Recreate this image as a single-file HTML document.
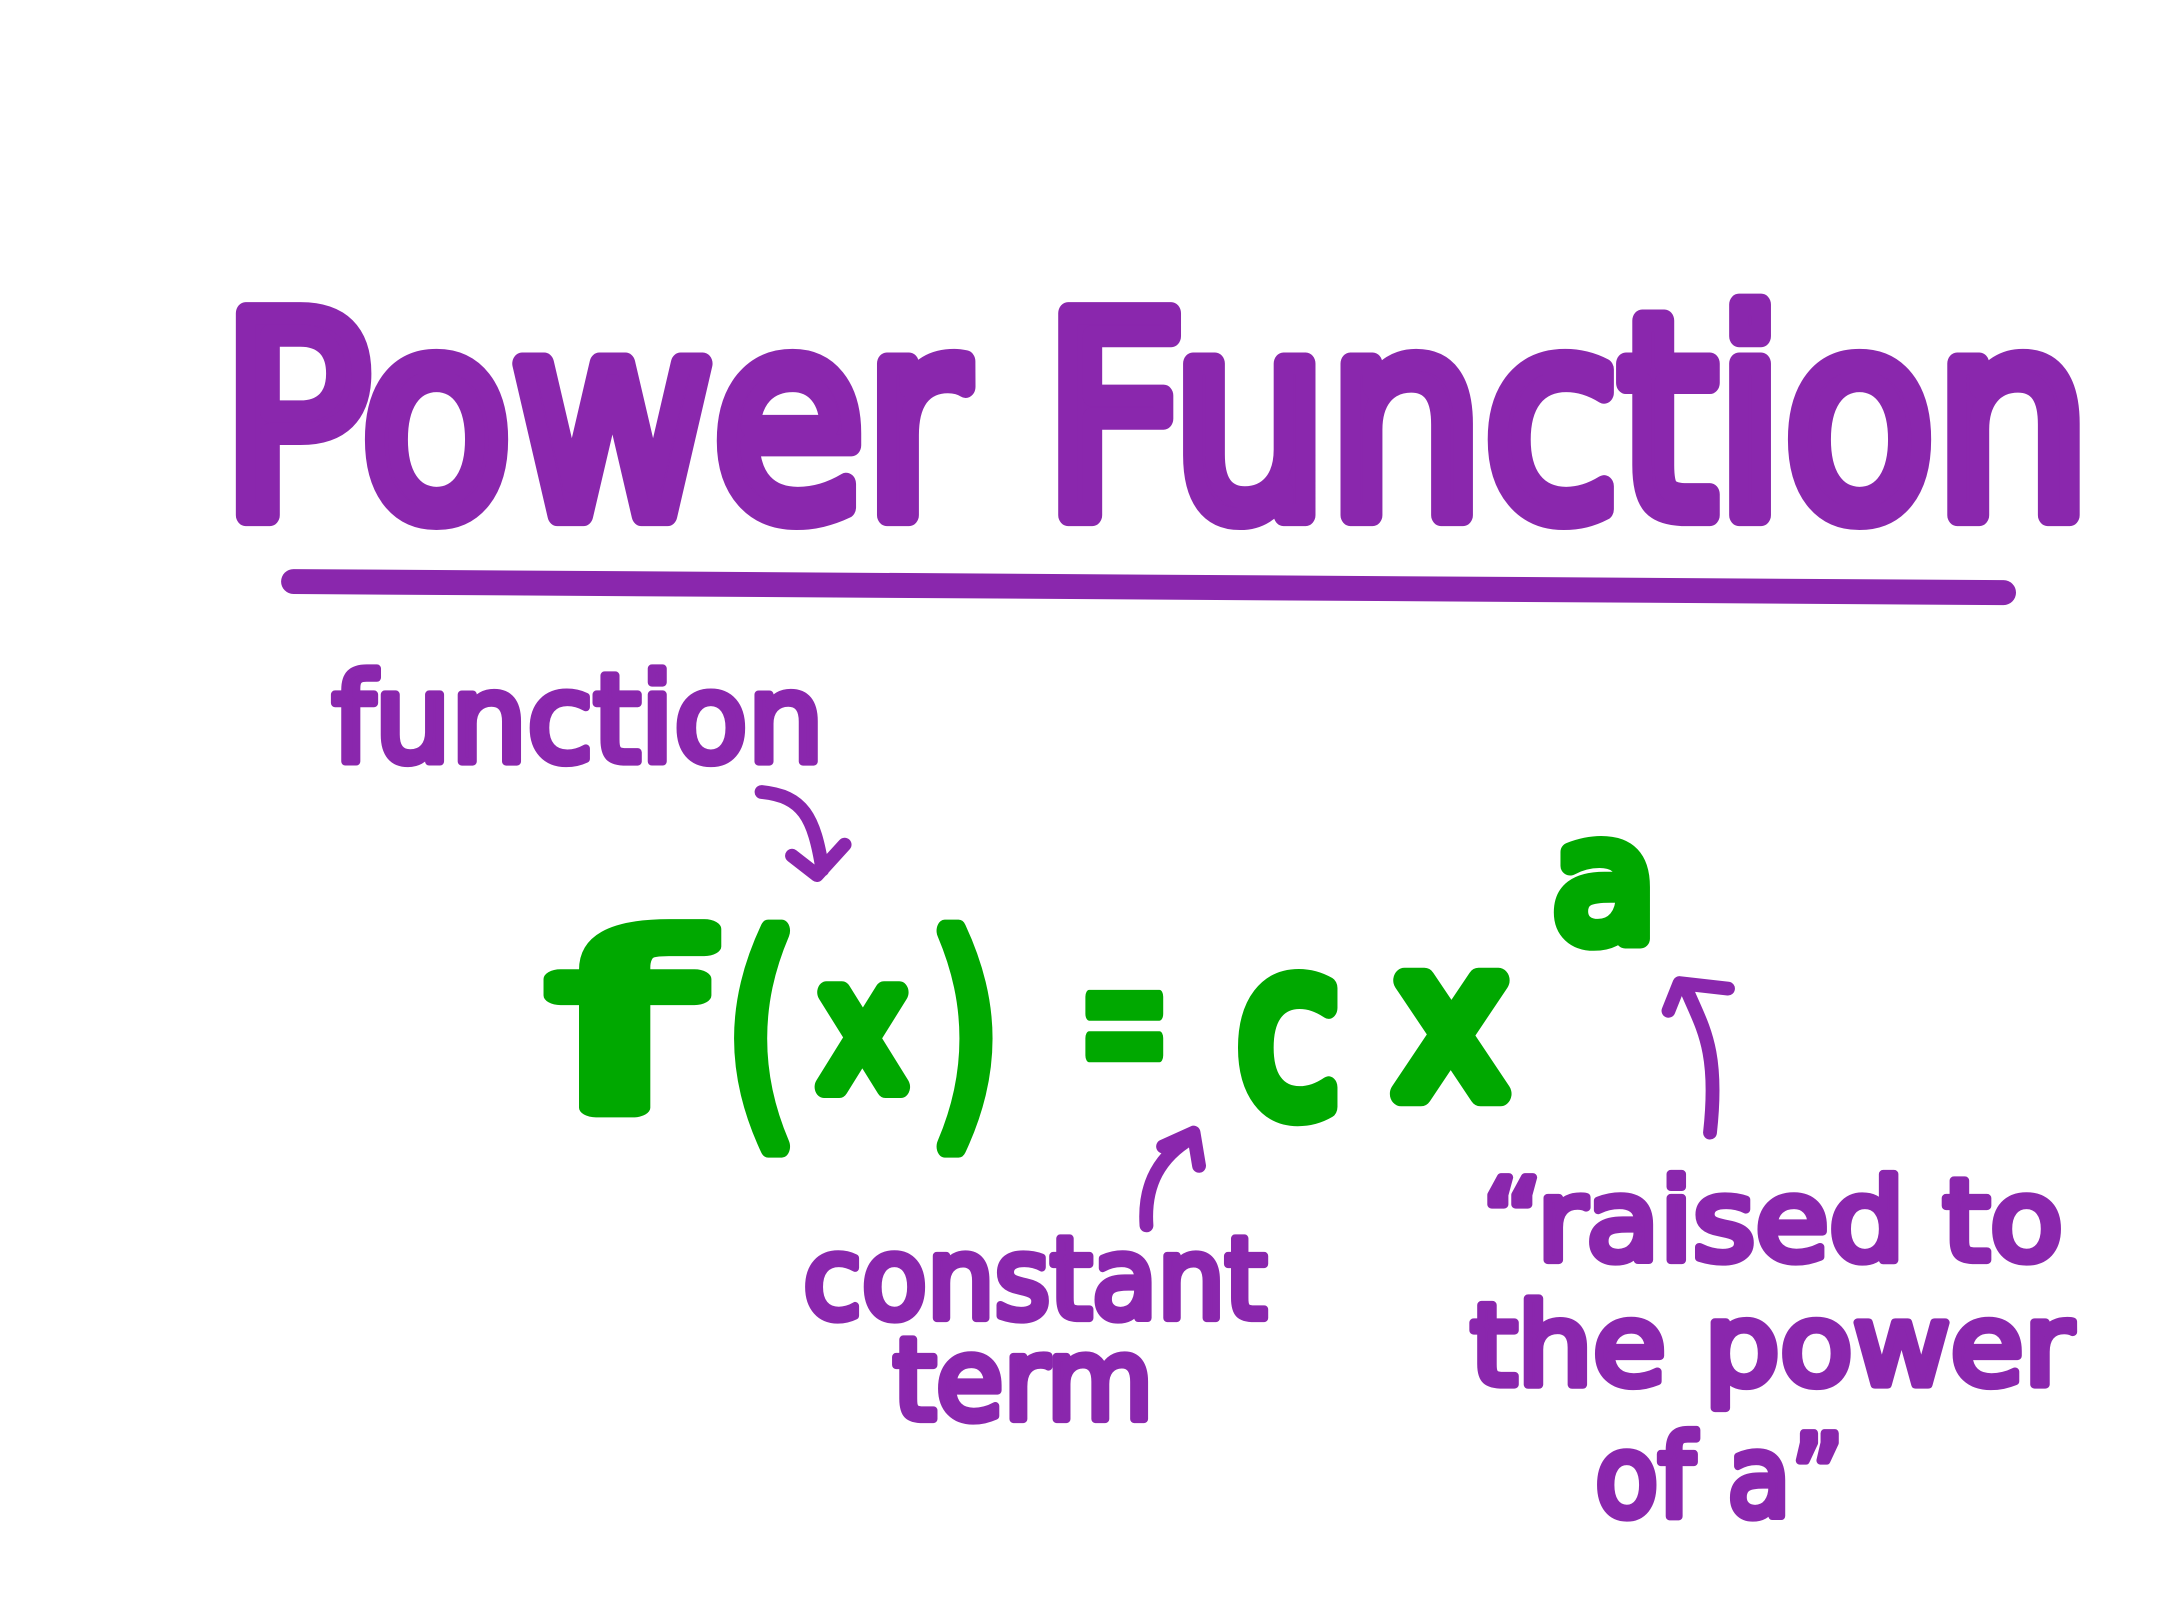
<!DOCTYPE html>
<html><head><meta charset="utf-8"><style>
html,body{margin:0;padding:0;background:#fff;}
svg{display:block;}
.p{fill:#8a27ad;stroke:#8a27ad;stroke-linejoin:round;font-family:"DejaVu Sans","Liberation Sans",sans-serif;font-weight:normal;}
.g{fill:#00a800;stroke:#00a800;stroke-linejoin:round;font-family:"DejaVu Sans","Liberation Sans",sans-serif;font-weight:normal;}
.l{fill:none;stroke-linecap:round;stroke-linejoin:round;}
</style></head><body>
<svg width="2160" height="1620" viewBox="0 0 1560 1170" xmlns="http://www.w3.org/2000/svg">
<rect width="1560" height="1170" fill="#fff"/>
<text class="p" x="160" y="372" font-size="200" stroke-width="16" textLength="1350" lengthAdjust="spacingAndGlyphs">Power Function</text>
<path class="l" d="M212 420 L1447 428" stroke="#8a27ad" stroke-width="18"/>
<text class="p" x="240" y="550" font-size="88" stroke-width="6" textLength="355" lengthAdjust="spacingAndGlyphs">function</text>
<path class="l" d="M550 572 C580 575 588 590 594 628 M572 618 L590 632 L610 610" stroke="#8a27ad" stroke-width="10"/>
<text class="g" x="398" y="800" font-size="170" stroke-width="14" textLength="105" lengthAdjust="spacingAndGlyphs">f</text>
<text class="g" x="525" y="805" font-size="175" stroke-width="16" textLength="50" lengthAdjust="spacingAndGlyphs">(</text>
<text class="g" x="592" y="785" font-size="125" stroke-width="16" textLength="62" lengthAdjust="spacingAndGlyphs">x</text>
<text class="g" x="672" y="805" font-size="175" stroke-width="16" textLength="50" lengthAdjust="spacingAndGlyphs">)</text>
<text class="g" x="778" y="788" font-size="150" stroke-width="10" textLength="68" lengthAdjust="spacingAndGlyphs">=</text>
<text class="g" x="893" y="803" font-size="170" stroke-width="16" textLength="75" lengthAdjust="spacingAndGlyphs">c</text>
<text class="g" x="1008" y="790" font-size="150" stroke-width="18" textLength="80" lengthAdjust="spacingAndGlyphs">x</text>
<text class="g" x="1122" y="678" font-size="120" stroke-width="14">a</text>
<path class="l" d="M1205 730 L1213 710 L1248 714 M1217 712 C1228 740 1242 755 1235 818" stroke="#8a27ad" stroke-width="10"/>
<path class="l" d="M828 885 C826 855 838 835 860 822 M840 828 L862 818 L866 842" stroke="#8a27ad" stroke-width="10"/>
<text class="p" x="580" y="952" font-size="82" stroke-width="6" textLength="335" lengthAdjust="spacingAndGlyphs">constant</text>
<text class="p" x="645" y="1025" font-size="82" stroke-width="6" textLength="188" lengthAdjust="spacingAndGlyphs">term</text>
<text class="p" x="1070" y="910" font-size="82" stroke-width="6" textLength="420" lengthAdjust="spacingAndGlyphs">“raised to</text>
<text class="p" x="1062" y="1000" font-size="82" stroke-width="6" textLength="435" lengthAdjust="spacingAndGlyphs">the power</text>
<text class="p" x="1152" y="1095" font-size="82" stroke-width="6" textLength="180" lengthAdjust="spacingAndGlyphs">of a”</text>
</svg>
</body></html>
